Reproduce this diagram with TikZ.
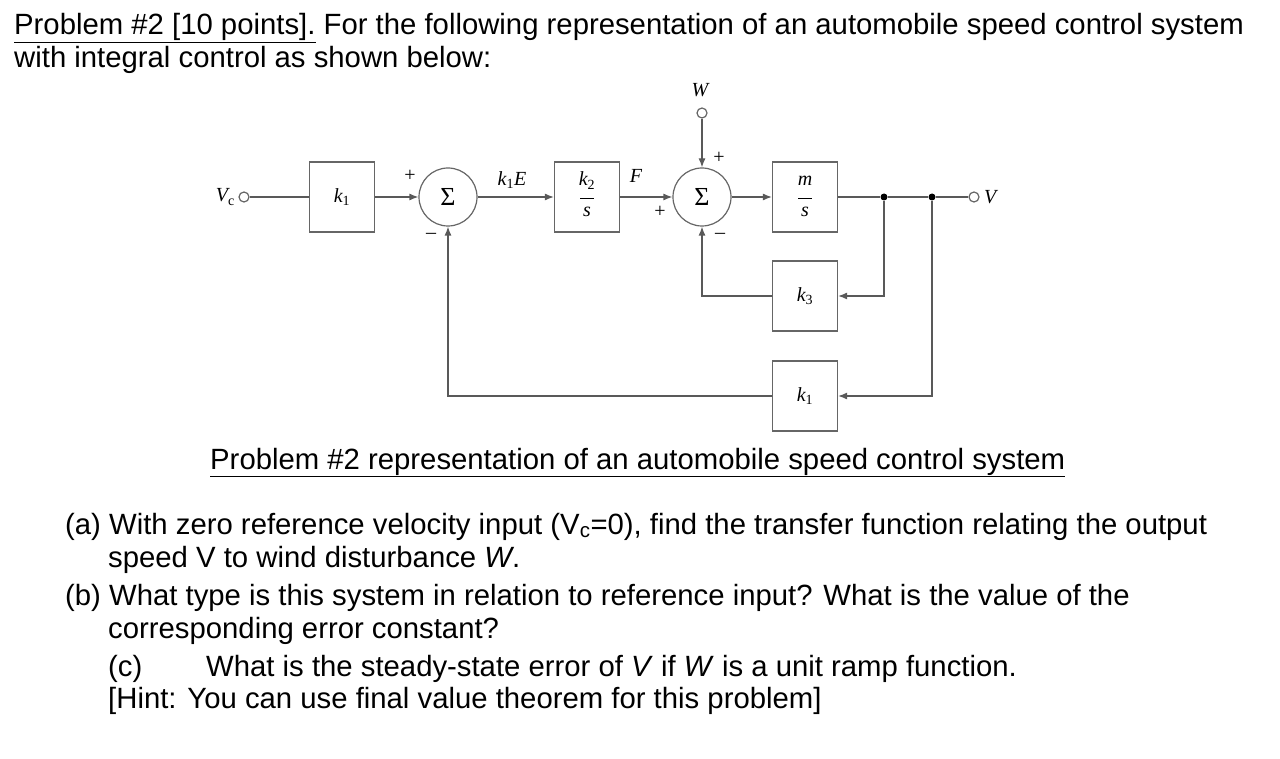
\documentclass[tikz,border=0pt]{standalone}
\usepackage{fontspec}
\setmainfont{Liberation Sans}
\newfontfamily\dfont{Liberation Serif}
\usetikzlibrary{arrows.meta}
\newcommand{\fr}[2]{\begin{tabular}{@{}c@{}}#1\\[-9pt]\rule{14pt}{0.8pt}\\[-4pt]#2\end{tabular}}
\newcommand{\sbu}[1]{\textsubscript{\upshape #1}}
\begin{document}
\begin{tikzpicture}[x=1pt,y=-1pt,
 txt/.style={anchor=base west,inner sep=0pt,font=\fontsize{29.3}{32}\selectfont},
 blk/.style={draw=gray!80!black,line width=1.2pt,minimum width=65pt,minimum height=70pt,font=\dfont\fontsize{20}{22}\selectfont\itshape},
 sm/.style={draw=gray!80!black,line width=1.2pt,circle,minimum size=58pt,inner sep=0pt,font=\dfont\fontsize{26}{26}\selectfont},
 port/.style={draw=gray!80!black,line width=1.2pt,circle,minimum size=10pt,inner sep=0pt},
 dot/.style={fill=black,circle,minimum size=7pt,inner sep=0pt},
 ln/.style={draw=gray!70!black,line width=1.2pt},
 ar/.style={ln,-{Latex[length=9pt,width=7pt]}},
 lab/.style={font=\dfont\fontsize{20}{22}\selectfont\itshape,inner sep=1pt},
 sg/.style={font=\dfont\fontsize{20}{20}\selectfont,inner sep=0pt}]
\useasboundingbox (0,0) rectangle (1280,759);
\node[txt] (t1) at (14,35) {\underline{Problem \#2 [10 points].} For the following representation of an automobile speed control system};
\node[txt] (t2) at (14,68) {with integral control as shown below:};
\node[port] (vc) at (244,197) {};
\node[lab,anchor=east] (vcl) at (236,197) {V\sbu{c}};
\node[blk] (k1) at (342,197) {k\sbu{1}};
\node[sm] (s1) at (448,197) {Σ};
\node[blk] (k2) at (587,197) {\fr{k\sbu{2}}{s}};
\node[sm] (s2) at (702,197) {Σ};
\node[port] (w) at (702,113) {};
\node[lab] (wl) at (700,90) {W};
\node[blk] (ms) at (805,197) {\fr{m}{s}};
\node[dot] (d1) at (884,197) {};
\node[dot] (d2) at (932,197) {};
\node[port] (v) at (974,197) {};
\node[lab,anchor=west] (vl) at (983,197) {V};
\node[blk] (k3) at (805,296) {k\sbu{3}};
\node[blk] (k1b) at (805,396) {k\sbu{1}};
\node[lab] (kel) at (512,180) {k\sbu{1}E};
\node[lab] (fl) at (636,176) {F};
\node[sg] (p1) at (410,176) {+};
\node[sg] (m1) at (431,236) {–};
\node[sg] (p2) at (660,212) {+};
\node[sg] (p3) at (719,158) {+};
\node[sg] (m2) at (720,236) {–};
\draw[ln] (vc) -- (k1);
\draw[ar] (k1) -- (s1);
\draw[ar] (s1) -- (k2);
\draw[ar] (k2) -- (s2);
\draw[ar] (w) -- (s2);
\draw[ar] (s2) -- (ms);
\draw[ln] (ms) -- (d1) -- (d2) -- (v);
\draw[ar] (d1) |- (k3);
\draw[ar] (d2) |- (k1b);
\draw[ar] (k3) -| (s2);
\draw[ar] (k1b) -| (s1);
\node[txt] (cap) at (210,469) {\underline{Problem \#2 representation of an automobile speed control system}};
\node[txt] (a1) at (65,534) {(a) With zero reference velocity input (V\textsubscript{c}=0), find the transfer function relating the output};
\node[txt] (a2) at (108,567) {speed V to wind disturbance \textit{W}.};
\node[txt] (b1) at (65,605) {(b) What type is this system in relation to reference input? What is the value of the};
\node[txt] (b2) at (108,638) {corresponding error constant?};
\node[txt] (c1) at (108,676) {(c)};
\node[txt] (c2) at (206,676) {What is the steady-state error of \textit{V} if \textit{W} is a unit ramp function.};
\node[txt] (h) at (108,708) {[Hint: You can use final value theorem for this problem]};
\end{tikzpicture}
\end{document}
